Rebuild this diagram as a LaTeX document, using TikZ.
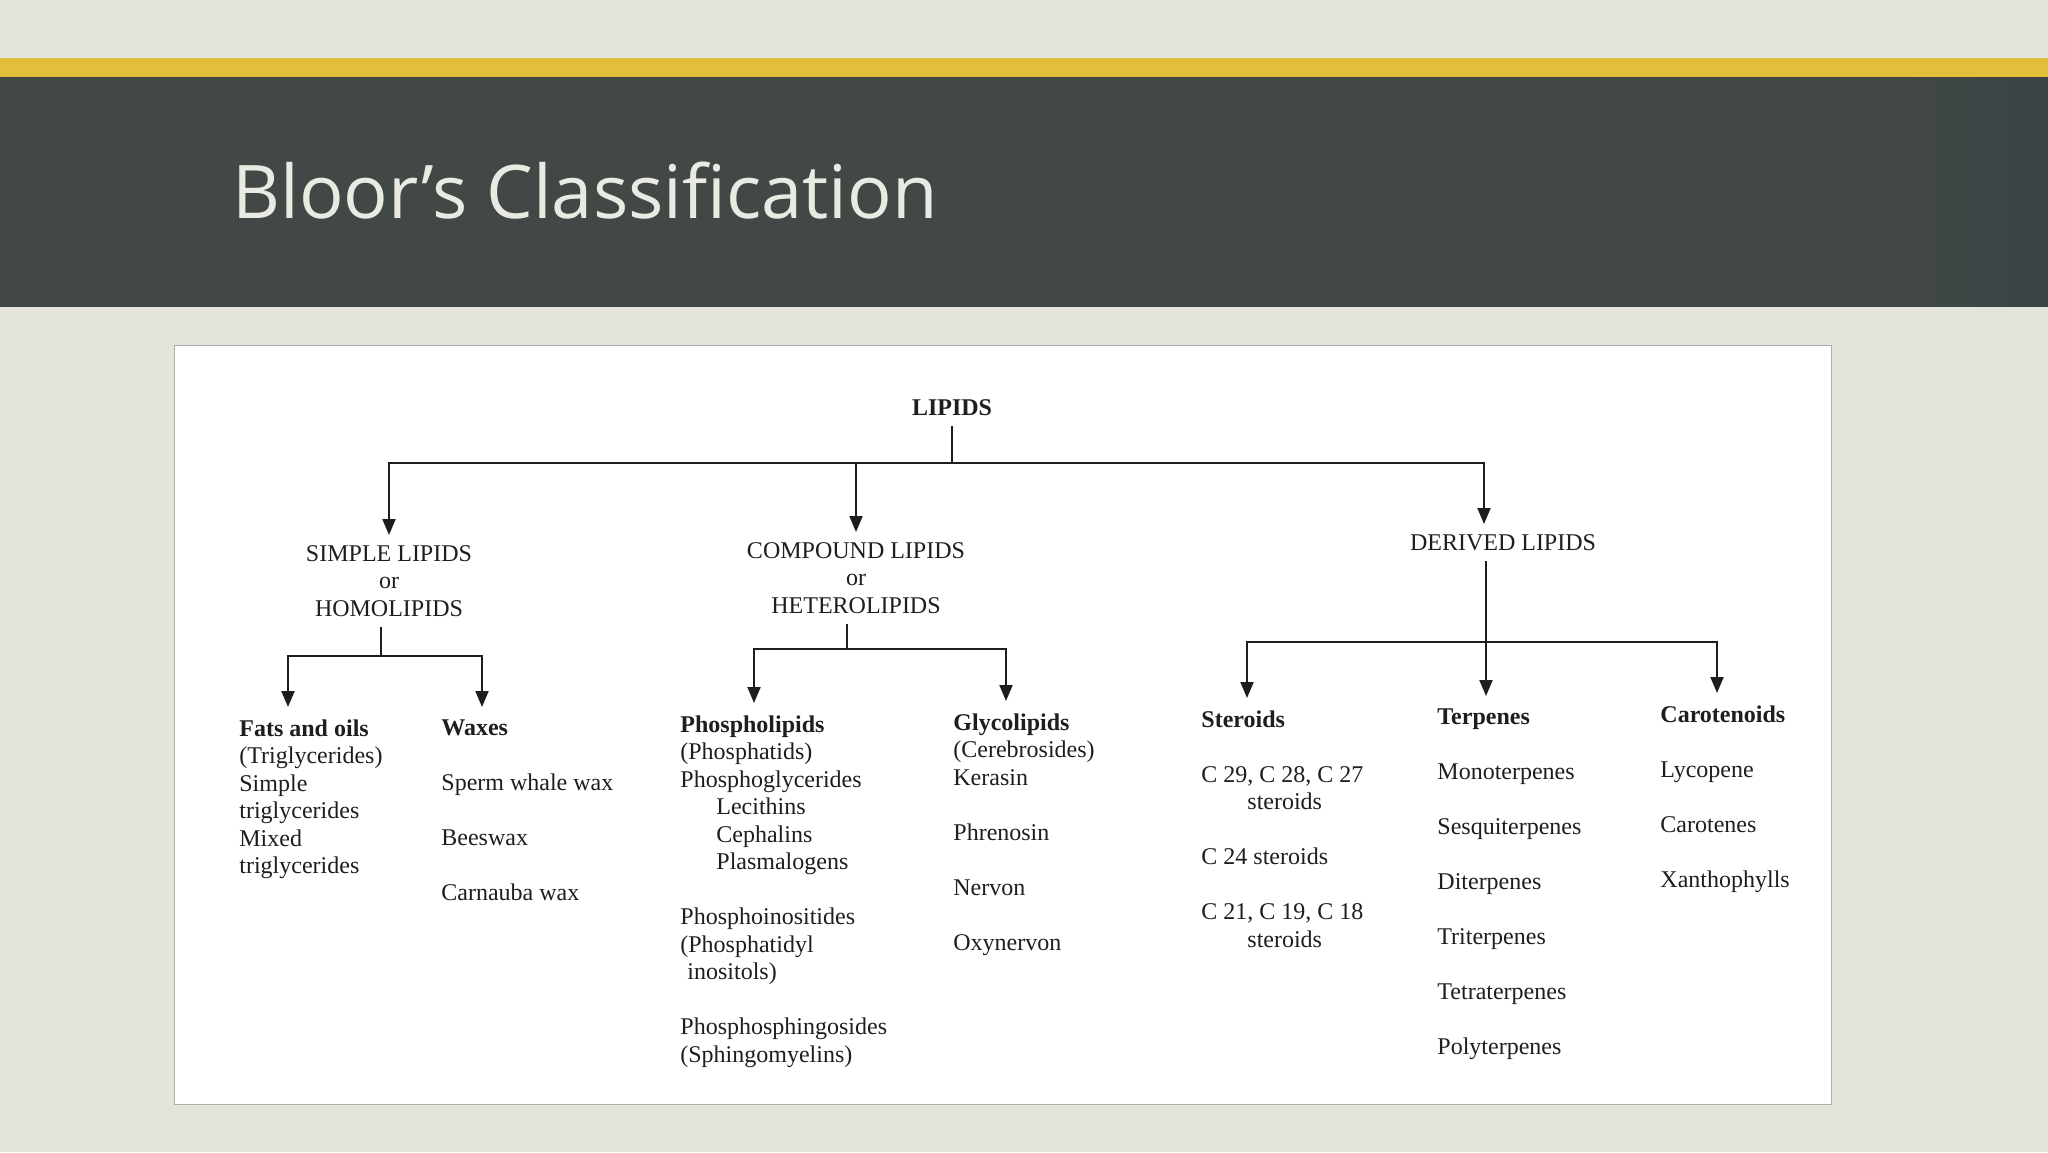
\documentclass[tikz,border=0pt]{standalone}
\usepackage{fontspec}
\setmainfont{Liberation Serif}
\newfontfamily\titlefont{Open Sans}
\usetikzlibrary{arrows.meta,positioning}
\definecolor{slidebg}{HTML}{E4E5DA}
\definecolor{barfill}{HTML}{E1BF3A}
\definecolor{slate}{HTML}{414845}
\definecolor{slateedge}{HTML}{3B4347}
\definecolor{titletext}{HTML}{E9EBE3}
\definecolor{ink}{HTML}{1E1E1E}

\begin{document}
\begin{tikzpicture}[
  x=0.5pt, y=-0.5pt,
  head/.style={font=\fontsize{12}{13.75}\selectfont, align=center, text=ink,
               anchor=north, inner sep=5pt},
  col/.style={font=\fontsize{12}{13.75}\selectfont, align=left, text=ink,
              anchor=north west, inner xsep=0pt, inner ysep=6pt},
  link/.style={draw=ink, line width=1pt},
  arr/.style={link, -{Triangle[length=8pt, width=6.5pt]}}
]
\useasboundingbox (0,0) rectangle (2048,1152);
\fill[slidebg] (0,0) rectangle (2048,1152);
\fill[slate] (0,77) rectangle (2048,307);
\shade[left color=slate, right color=slateedge] (1900,70) rectangle (2048,312);
\fill[barfill] (0,58) rectangle (2048,77);
\fill[slidebg] (0,307) rectangle (2048,345);
\node[anchor=base west, inner sep=0pt, text=titletext,
      font=\titlefont\fontsize{37}{40}\selectfont] (title) at (232,218) {Bloor’s Classification};
\draw[fill=white, draw=black!32] (174,345) rectangle (1831,1104);

\node[head, font=\fontsize{12}{13.75}\selectfont\bfseries] (lipids) at (952,389) {LIPIDS};
\node[head] (simple) at (389,535) {SIMPLE LIPIDS\\or\\HOMOLIPIDS};
\node[head] (compound) at (856,532) {COMPOUND LIPIDS\\or\\HETEROLIPIDS};
\node[head] (derived) at (1503,524) {DERIVED LIPIDS};

\node[col] (fats) at (239,707) {\textbf{Fats and oils}\\(Triglycerides)\\Simple\\triglycerides\\Mixed\\triglycerides};
\node[col] (waxes) at (441,707) {\textbf{Waxes}\\[13.75pt]Sperm whale wax\\[13.75pt]Beeswax\\[13.75pt]Carnauba wax};
\node[col] (phospho) at (680,703) {\textbf{Phospholipids}\\(Phosphatids)\\Phosphoglycerides\\
  \hspace*{18pt}Lecithins\\\hspace*{18pt}Cephalins\\\hspace*{18pt}Plasmalogens\\[13.75pt]
  Phosphoinositides\\(Phosphatidyl\\\hspace*{3.5pt}inositols)\\[13.75pt]
  Phosphosphingosides\\(Sphingomyelins)};
\node[col] (glyco) at (953,701) {\textbf{Glycolipids}\\(Cerebrosides)\\Kerasin\\[13.75pt]Phrenosin\\[13.75pt]Nervon\\[13.75pt]Oxynervon};
\node[col] (steroid) at (1201,698) {\textbf{Steroids}\\[13.75pt]C 29, C 28, C 27\\\hspace*{23pt}steroids\\[13.75pt]
  C 24 steroids\\[13.75pt]C 21, C 19, C 18\\\hspace*{23pt}steroids};
\node[col] (terp) at (1437,696) {\textbf{Terpenes}\\[13.75pt]Monoterpenes\\[13.75pt]Sesquiterpenes\\[13.75pt]Diterpenes\\[13.75pt]
  Triterpenes\\[13.75pt]Tetraterpenes\\[13.75pt]Polyterpenes};
\node[col] (carot) at (1660,693) {\textbf{Carotenoids}\\[13.75pt]Lycopene\\[13.75pt]Carotenes\\[13.75pt]Xanthophylls};

\coordinate (top) at (952,463);
\coordinate (topR) at (1484,463);
\coordinate (sj) at (381,656);
\coordinate (sl) at (288,656);
\coordinate (sr) at (482,656);
\coordinate (cj) at (847,649);
\coordinate (cl) at (754,649);
\coordinate (cr) at (1006,649);
\coordinate (dj) at (1486,642);
\coordinate (dl) at (1247,642);
\coordinate (dr) at (1717,642);

\draw[link] (lipids) -- (top);
\draw[arr] (top) -| (simple);
\draw[arr] (top) -| (compound);
\draw[arr] (top) -- (topR) -- (topR |- derived.north);
\draw[link] (simple.south -| sj) -- (sj);
\draw[arr] (sj) -- (sl) -- (sl |- fats.north);
\draw[arr] (sj) -- (sr) -- (sr |- waxes.north);
\draw[link] (compound.south -| cj) -- (cj);
\draw[arr] (cj) -- (cl) -- (cl |- phospho.north);
\draw[arr] (cj) -- (cr) -- (cr |- glyco.north);
\draw[arr] (derived.south -| dj) -- (dj |- terp.north);
\draw[arr] (dj) -- (dl) -- (dl |- steroid.north);
\draw[arr] (dj) -- (dr) -- (dr |- carot.north);
\end{tikzpicture}
\end{document}
